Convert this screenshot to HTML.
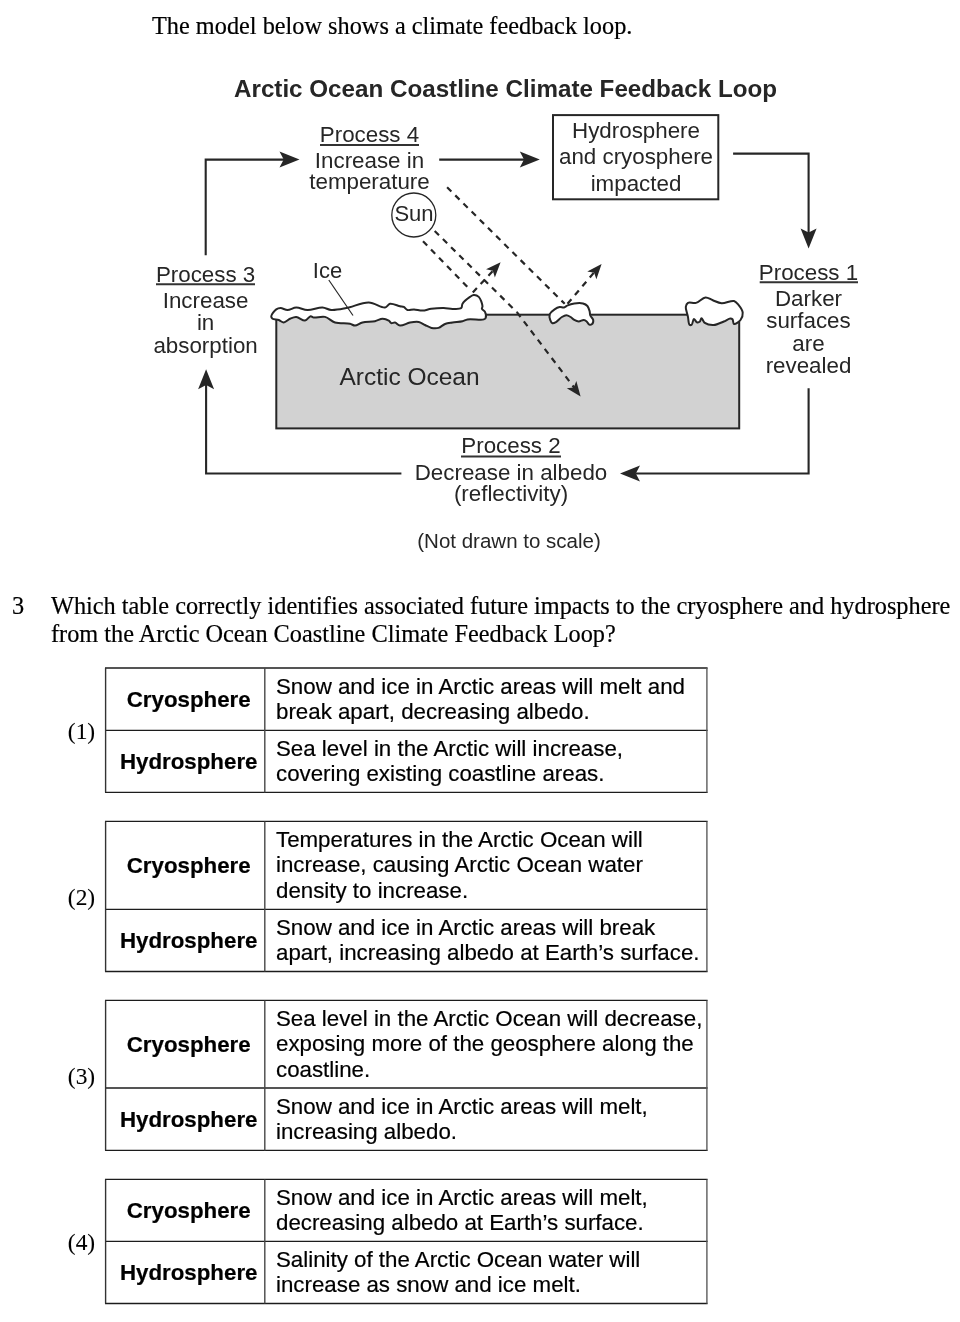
<!DOCTYPE html><html><head><meta charset="utf-8"><style>html,body{margin:0;padding:0;background:#fff;width:960px;height:1322px;overflow:hidden}svg{display:block;will-change:transform}</style></head><body><svg width="960" height="1322" viewBox="0 0 960 1322"><rect width="960" height="1322" fill="#fff"/><text x="152" y="34" font-size="24.3" text-anchor="start" font-family="'Liberation Serif', serif" fill="#000" font-weight="normal" stroke="#000" stroke-width="0.2" >The model below shows a climate feedback loop.</text><text x="234" y="96.5" font-size="24.2" text-anchor="start" font-family="'Liberation Sans', sans-serif" fill="#262626" font-weight="bold" >Arctic Ocean Coastline Climate Feedback Loop</text><rect x="276.3" y="314.7" width="462.9" height="113.7" fill="#d2d2d2" stroke="#262626" stroke-width="2"/><text x="409.5" y="384.9" font-size="24.5" text-anchor="middle" font-family="'Liberation Sans', sans-serif" fill="#262626" font-weight="normal" >Arctic Ocean</text><path d="M271.25 316.25C271.40 314.50 274.40 310.71 276.25 309.40C277.60 308.44 278.98 308.12 280.60 308.10C282.63 308.08 285.07 310.01 287.50 310.00C290.25 309.99 293.14 307.59 296.25 307.50C299.75 307.40 303.47 309.89 307.50 310.00C312.13 310.12 318.19 307.26 322.50 307.50C325.83 307.69 327.91 309.75 331.25 310.00C335.55 310.33 340.78 309.12 346.25 308.10C353.03 306.83 361.88 302.31 368.75 302.50C374.63 302.66 381.24 308.15 385.00 307.50C387.28 307.10 387.93 304.17 390.00 303.75C392.66 303.21 397.46 305.71 400.00 306.25C401.54 306.58 402.57 306.36 403.75 306.90C405.09 307.51 405.96 309.51 407.50 310.00C409.28 310.56 411.69 309.44 414.00 309.50C416.65 309.57 419.66 310.71 422.50 310.60C425.41 310.48 428.06 309.19 431.25 308.75C435.03 308.22 439.96 307.81 443.75 307.90C446.93 307.97 449.58 308.87 452.50 308.90C455.41 308.93 459.69 309.39 461.25 308.10C462.37 307.18 461.58 305.23 462.50 303.75C463.88 301.53 467.84 298.39 470.00 296.90C471.39 295.94 472.39 295.07 473.75 295.00C475.28 294.92 477.40 295.58 478.75 296.90C480.60 298.72 482.34 304.11 482.50 306.25C482.58 307.33 481.67 307.93 481.90 308.75C482.20 309.82 484.36 310.53 485.00 311.90C485.76 313.52 486.16 316.87 485.60 318.10C485.26 318.84 484.75 319.08 483.75 319.40C481.07 320.25 471.32 318.72 467.50 319.40C465.31 319.79 464.49 320.77 462.50 321.25C459.77 321.92 455.59 322.00 452.50 322.50C449.81 322.94 447.34 323.10 445.00 324.00C442.67 324.90 440.80 327.26 438.50 327.90C436.29 328.51 433.74 328.38 431.50 327.90C429.24 327.42 427.14 326.01 425.00 325.00C422.89 324.00 421.08 322.36 418.75 321.90C416.14 321.38 412.98 321.94 410.00 322.50C406.74 323.11 402.70 325.95 400.00 325.60C397.98 325.34 396.61 322.82 395.00 322.50C393.71 322.24 392.30 323.44 391.25 323.10C390.23 322.77 389.88 321.27 388.75 320.60C387.21 319.69 384.67 318.71 382.50 318.75C380.11 318.79 377.86 320.64 375.00 321.25C371.40 322.02 366.08 321.60 362.50 322.50C359.62 323.22 357.25 325.56 355.00 325.60C353.17 325.63 352.16 324.23 350.00 323.75C346.38 322.94 339.37 323.84 335.00 322.50C331.19 321.33 328.56 317.73 325.00 316.90C321.47 316.08 316.31 317.92 313.75 317.50C312.34 317.27 311.75 316.09 310.60 316.25C308.94 316.49 307.17 320.32 305.00 320.60C302.49 320.93 298.95 317.05 296.25 316.90C294.02 316.77 292.03 317.86 290.00 318.75C287.86 319.69 285.74 322.42 283.75 322.50C282.01 322.57 280.55 320.62 278.75 320.00C276.82 319.34 273.71 319.67 272.50 318.75C271.70 318.14 271.17 317.26 271.25 316.25Z" fill="#fff" stroke="#262626" stroke-width="2" stroke-linejoin="round"/><path d="M549.80 314.10C550.49 312.25 552.85 310.49 554.60 309.30C556.18 308.23 558.04 307.36 559.70 307.10C561.16 306.87 562.67 307.80 564.00 307.50C565.33 307.20 566.24 305.92 567.70 305.30C569.54 304.52 571.93 303.82 574.30 303.50C576.98 303.14 580.65 302.88 583.00 303.50C584.79 303.97 586.31 304.78 587.40 306.00C588.54 307.28 589.12 309.43 589.60 311.10C590.03 312.59 589.75 314.09 590.30 315.50C590.90 317.03 592.99 318.38 593.20 319.90C593.40 321.32 592.69 323.65 591.80 324.30C591.10 324.81 589.72 324.71 588.90 324.30C587.98 323.84 587.58 322.14 586.70 321.40C585.87 320.70 584.93 320.01 583.80 319.90C582.36 319.76 580.33 321.43 578.70 321.40C577.17 321.37 575.65 320.63 574.30 319.90C572.95 319.17 571.94 317.78 570.60 317.00C569.27 316.22 567.74 315.21 566.30 315.20C564.84 315.19 563.40 316.08 561.90 317.00C559.98 318.18 557.83 321.09 556.00 322.10C554.73 322.80 553.36 323.54 552.40 323.20C551.41 322.85 550.65 321.22 550.20 319.90C549.65 318.30 549.16 315.82 549.80 314.10Z" fill="#fff" stroke="#262626" stroke-width="2" stroke-linejoin="round"/><path d="M687.30 314.20C686.88 312.32 685.49 308.92 685.80 306.90C686.04 305.32 686.72 303.66 688.00 302.90C689.70 301.89 693.32 303.62 696.00 302.90C699.14 302.06 702.49 297.62 705.50 297.40C708.05 297.21 710.24 299.37 712.80 300.30C715.58 301.31 718.38 302.97 721.60 303.20C725.35 303.47 731.06 300.19 734.00 301.00C735.97 301.54 736.99 303.08 738.30 304.70C739.96 306.75 742.42 310.04 742.70 312.70C742.96 315.14 741.95 318.12 740.50 320.00C739.05 321.88 735.31 324.49 734.00 324.00C732.95 323.61 733.33 320.17 732.50 319.30C731.93 318.70 731.22 318.46 730.30 318.50C728.70 318.57 726.24 320.51 723.80 321.50C720.79 322.72 716.81 324.95 713.50 325.10C710.50 325.23 706.85 324.31 704.80 322.90C703.16 321.77 702.39 318.13 701.50 318.20C700.75 318.26 700.59 321.16 699.70 321.80C698.94 322.34 697.69 322.53 696.80 322.20C695.71 321.80 694.71 318.75 693.90 318.90C692.94 319.07 692.75 323.98 691.70 324.70C691.08 325.13 690.07 325.17 689.50 324.70C688.43 323.82 688.42 319.03 688.00 317.10C687.74 315.90 687.57 315.39 687.30 314.20Z" fill="#fff" stroke="#262626" stroke-width="2" stroke-linejoin="round"/><text x="327.5" y="277.7" font-size="22" text-anchor="middle" font-family="'Liberation Sans', sans-serif" fill="#262626" font-weight="normal" >Ice</text><line x1="328.8" y1="280" x2="353" y2="315.5" stroke="#262626" stroke-width="1.2"/><circle cx="413.8" cy="215" r="22" fill="#fff" stroke="#262626" stroke-width="1.3"/><text x="414" y="221.4" font-size="22" text-anchor="middle" font-family="'Liberation Sans', sans-serif" fill="#262626" font-weight="normal" >Sun</text><line x1="447.1" y1="187.3" x2="564.7" y2="303.8" stroke="#262626" stroke-width="2.2" stroke-dasharray="6 5.5"/><line x1="434.7" y1="231" x2="516.9" y2="312.2" stroke="#262626" stroke-width="2.2" stroke-dasharray="6 5.5"/><line x1="423" y1="241.3" x2="470" y2="289.7" stroke="#262626" stroke-width="2.2" stroke-dasharray="6 5.5"/><line x1="472.8" y1="292.5" x2="496" y2="267.5" stroke="#262626" stroke-width="2.2" stroke-dasharray="6 5.5"/><path d="M500.60 262.30L494.86 277.40L492.81 270.76L486.03 269.27Z" fill="#262626"/><line x1="567.5" y1="303.8" x2="597" y2="269" stroke="#262626" stroke-width="2.2" stroke-dasharray="6 5.5"/><path d="M601.60 264.00L596.40 279.29L594.12 272.73L587.28 271.49Z" fill="#262626"/><line x1="516.9" y1="312.2" x2="576" y2="390" stroke="#262626" stroke-width="2.2" stroke-dasharray="6 5.5"/><path d="M580.60 396.60L566.77 388.24L573.67 387.42L576.35 381.01Z" fill="#262626"/><polyline points="205.7,255.3 205.7,159.6 284,159.6" stroke="#262626" stroke-width="2.1" fill="none"/><path d="M299.50 159.60L279.50 167.60L283.70 159.60L279.50 151.60Z" fill="#262626"/><line x1="439.2" y1="159.6" x2="525" y2="159.6" stroke="#262626" stroke-width="2.1" fill="none"/><path d="M539.80 159.60L519.80 167.60L524.00 159.60L519.80 151.60Z" fill="#262626"/><polyline points="733.1,153.6 808.6,153.6 808.6,235" stroke="#262626" stroke-width="2.1" fill="none"/><path d="M808.60 248.40L800.60 228.40L808.60 232.60L816.60 228.40Z" fill="#262626"/><polyline points="808.6,388.2 808.6,473.5 636,473.5" stroke="#262626" stroke-width="2.1" fill="none"/><path d="M620.00 473.50L640.00 465.50L635.80 473.50L640.00 481.50Z" fill="#262626"/><polyline points="401.4,473.5 206.1,473.5 206.1,385" stroke="#262626" stroke-width="2.1" fill="none"/><path d="M206.10 369.20L214.10 389.20L206.10 385.00L198.10 389.20Z" fill="#262626"/><rect x="553" y="115.1" width="165.3" height="84.2" fill="none" stroke="#262626" stroke-width="2"/><text x="636" y="137.7" font-size="22.35" text-anchor="middle" font-family="'Liberation Sans', sans-serif" fill="#262626" font-weight="normal" >Hydrosphere</text><text x="636" y="163.9" font-size="22.35" text-anchor="middle" font-family="'Liberation Sans', sans-serif" fill="#262626" font-weight="normal" >and cryosphere</text><text x="636" y="191.1" font-size="22.35" text-anchor="middle" font-family="'Liberation Sans', sans-serif" fill="#262626" font-weight="normal" >impacted</text><text x="369.5" y="141.7" font-size="22.35" text-anchor="middle" font-family="'Liberation Sans', sans-serif" fill="#262626" font-weight="normal" >Process 4</text><line x1="320" y1="144.9" x2="419" y2="144.9" stroke="#333" stroke-width="2"/><text x="369.5" y="168.3" font-size="22.35" text-anchor="middle" font-family="'Liberation Sans', sans-serif" fill="#262626" font-weight="normal" >Increase in</text><text x="369.5" y="189.1" font-size="22.35" text-anchor="middle" font-family="'Liberation Sans', sans-serif" fill="#262626" font-weight="normal" >temperature</text><text x="808.5" y="279.5" font-size="22.35" text-anchor="middle" font-family="'Liberation Sans', sans-serif" fill="#262626" font-weight="normal" >Process 1</text><line x1="759.7" y1="282.3" x2="858" y2="282.3" stroke="#333" stroke-width="2"/><text x="808.5" y="306.1" font-size="22.35" text-anchor="middle" font-family="'Liberation Sans', sans-serif" fill="#262626" font-weight="normal" >Darker</text><text x="808.5" y="328.0" font-size="22.35" text-anchor="middle" font-family="'Liberation Sans', sans-serif" fill="#262626" font-weight="normal" >surfaces</text><text x="808.5" y="350.5" font-size="22.35" text-anchor="middle" font-family="'Liberation Sans', sans-serif" fill="#262626" font-weight="normal" >are</text><text x="808.5" y="372.8" font-size="22.35" text-anchor="middle" font-family="'Liberation Sans', sans-serif" fill="#262626" font-weight="normal" >revealed</text><text x="205.6" y="281.9" font-size="22.35" text-anchor="middle" font-family="'Liberation Sans', sans-serif" fill="#262626" font-weight="normal" >Process 3</text><line x1="156" y1="284.3" x2="255" y2="284.3" stroke="#333" stroke-width="2"/><text x="205.6" y="308.4" font-size="22.35" text-anchor="middle" font-family="'Liberation Sans', sans-serif" fill="#262626" font-weight="normal" >Increase</text><text x="205.6" y="330.3" font-size="22.35" text-anchor="middle" font-family="'Liberation Sans', sans-serif" fill="#262626" font-weight="normal" >in</text><text x="205.6" y="352.9" font-size="22.35" text-anchor="middle" font-family="'Liberation Sans', sans-serif" fill="#262626" font-weight="normal" >absorption</text><text x="511" y="453.4" font-size="22.35" text-anchor="middle" font-family="'Liberation Sans', sans-serif" fill="#262626" font-weight="normal" >Process 2</text><line x1="461" y1="456.5" x2="561" y2="456.5" stroke="#333" stroke-width="2"/><text x="511" y="480.2" font-size="22.35" text-anchor="middle" font-family="'Liberation Sans', sans-serif" fill="#262626" font-weight="normal" >Decrease in albedo</text><text x="511" y="501.1" font-size="22.35" text-anchor="middle" font-family="'Liberation Sans', sans-serif" fill="#262626" font-weight="normal" >(reflectivity)</text><text x="509" y="547.8" font-size="20.5" text-anchor="middle" font-family="'Liberation Sans', sans-serif" fill="#262626" font-weight="normal" >(Not drawn to scale)</text><text x="12" y="614" font-size="24.3" text-anchor="start" font-family="'Liberation Serif', serif" fill="#000" font-weight="normal" stroke="#000" stroke-width="0.2" >3</text><text x="51" y="614" font-size="24.3" text-anchor="start" font-family="'Liberation Serif', serif" fill="#000" font-weight="normal" stroke="#000" stroke-width="0.2" >Which table correctly identifies associated future impacts to the cryosphere and hydrosphere</text><text x="51" y="642" font-size="24.3" text-anchor="start" font-family="'Liberation Serif', serif" fill="#000" font-weight="normal" stroke="#000" stroke-width="0.2" >from the Arctic Ocean Coastline Climate Feedback Loop?</text><line x1="105" y1="668.0" x2="707.6" y2="668.0" stroke="#1c1c1c" stroke-width="1.3"/><line x1="105" y1="730.35" x2="707.6" y2="730.35" stroke="#1c1c1c" stroke-width="1.3"/><line x1="105" y1="792.4" x2="707.6" y2="792.4" stroke="#1c1c1c" stroke-width="1.3"/><line x1="105.6" y1="668.0" x2="105.6" y2="792.4" stroke="#333" stroke-width="1.4"/><line x1="264.8" y1="668.0" x2="264.8" y2="792.4" stroke="#474747" stroke-width="1.4"/><line x1="706.9" y1="668.0" x2="706.9" y2="792.4" stroke="#5c5c5c" stroke-width="1.4"/><text x="81.5" y="738.9" font-size="23.4" text-anchor="middle" font-family="'Liberation Serif', serif" fill="#000" font-weight="normal" stroke="#000" stroke-width="0.1" >(1)</text><text x="188.7" y="706.775" font-size="22.3" text-anchor="middle" font-family="'Liberation Sans', sans-serif" fill="#000" font-weight="bold" stroke="#000" stroke-width="0.2" >Cryosphere</text><text x="188.7" y="768.975" font-size="22.3" text-anchor="middle" font-family="'Liberation Sans', sans-serif" fill="#000" font-weight="bold" stroke="#000" stroke-width="0.2" >Hydrosphere</text><text x="276" y="693.6" font-size="22.3" text-anchor="start" font-family="'Liberation Sans', sans-serif" fill="#000" font-weight="normal" stroke="#000" stroke-width="0.2" >Snow and ice in Arctic areas will melt and</text><text x="276" y="718.9" font-size="22.3" text-anchor="start" font-family="'Liberation Sans', sans-serif" fill="#000" font-weight="normal" stroke="#000" stroke-width="0.2" >break apart, decreasing albedo.</text><text x="276" y="755.95" font-size="22.3" text-anchor="start" font-family="'Liberation Sans', sans-serif" fill="#000" font-weight="normal" stroke="#000" stroke-width="0.2" >Sea level in the Arctic will increase,</text><text x="276" y="781.25" font-size="22.3" text-anchor="start" font-family="'Liberation Sans', sans-serif" fill="#000" font-weight="normal" stroke="#000" stroke-width="0.2" >covering existing coastline areas.</text><line x1="105" y1="821.4" x2="707.6" y2="821.4" stroke="#1c1c1c" stroke-width="1.3"/><line x1="105" y1="909.4" x2="707.6" y2="909.4" stroke="#1c1c1c" stroke-width="1.3"/><line x1="105" y1="971.5" x2="707.6" y2="971.5" stroke="#1c1c1c" stroke-width="1.3"/><line x1="105.6" y1="821.4" x2="105.6" y2="971.5" stroke="#333" stroke-width="1.4"/><line x1="264.8" y1="821.4" x2="264.8" y2="971.5" stroke="#474747" stroke-width="1.4"/><line x1="706.9" y1="821.4" x2="706.9" y2="971.5" stroke="#5c5c5c" stroke-width="1.4"/><text x="81.5" y="905.3" font-size="23.4" text-anchor="middle" font-family="'Liberation Serif', serif" fill="#000" font-weight="normal" stroke="#000" stroke-width="0.1" >(2)</text><text x="188.7" y="873.0" font-size="22.3" text-anchor="middle" font-family="'Liberation Sans', sans-serif" fill="#000" font-weight="bold" stroke="#000" stroke-width="0.2" >Cryosphere</text><text x="188.7" y="948.0500000000001" font-size="22.3" text-anchor="middle" font-family="'Liberation Sans', sans-serif" fill="#000" font-weight="bold" stroke="#000" stroke-width="0.2" >Hydrosphere</text><text x="276" y="847.0" font-size="22.3" text-anchor="start" font-family="'Liberation Sans', sans-serif" fill="#000" font-weight="normal" stroke="#000" stroke-width="0.2" >Temperatures in the Arctic Ocean will</text><text x="276" y="872.3" font-size="22.3" text-anchor="start" font-family="'Liberation Sans', sans-serif" fill="#000" font-weight="normal" stroke="#000" stroke-width="0.2" >increase, causing Arctic Ocean water</text><text x="276" y="897.6" font-size="22.3" text-anchor="start" font-family="'Liberation Sans', sans-serif" fill="#000" font-weight="normal" stroke="#000" stroke-width="0.2" >density to increase.</text><text x="276" y="935.0" font-size="22.3" text-anchor="start" font-family="'Liberation Sans', sans-serif" fill="#000" font-weight="normal" stroke="#000" stroke-width="0.2" >Snow and ice in Arctic areas will break</text><text x="276" y="960.3" font-size="22.3" text-anchor="start" font-family="'Liberation Sans', sans-serif" fill="#000" font-weight="normal" stroke="#000" stroke-width="0.2" >apart, increasing albedo at Earth’s surface.</text><line x1="105" y1="1000.4" x2="707.6" y2="1000.4" stroke="#1c1c1c" stroke-width="1.3"/><line x1="105" y1="1088.0" x2="707.6" y2="1088.0" stroke="#1c1c1c" stroke-width="1.3"/><line x1="105" y1="1150.4" x2="707.6" y2="1150.4" stroke="#1c1c1c" stroke-width="1.3"/><line x1="105.6" y1="1000.4" x2="105.6" y2="1150.4" stroke="#333" stroke-width="1.4"/><line x1="264.8" y1="1000.4" x2="264.8" y2="1150.4" stroke="#474747" stroke-width="1.4"/><line x1="706.9" y1="1000.4" x2="706.9" y2="1150.4" stroke="#5c5c5c" stroke-width="1.4"/><text x="81.5" y="1084.0" font-size="23.4" text-anchor="middle" font-family="'Liberation Serif', serif" fill="#000" font-weight="normal" stroke="#000" stroke-width="0.1" >(3)</text><text x="188.7" y="1051.8" font-size="22.3" text-anchor="middle" font-family="'Liberation Sans', sans-serif" fill="#000" font-weight="bold" stroke="#000" stroke-width="0.2" >Cryosphere</text><text x="188.7" y="1126.8" font-size="22.3" text-anchor="middle" font-family="'Liberation Sans', sans-serif" fill="#000" font-weight="bold" stroke="#000" stroke-width="0.2" >Hydrosphere</text><text x="276" y="1026.0" font-size="22.3" text-anchor="start" font-family="'Liberation Sans', sans-serif" fill="#000" font-weight="normal" stroke="#000" stroke-width="0.2" >Sea level in the Arctic Ocean will decrease,</text><text x="276" y="1051.3" font-size="22.3" text-anchor="start" font-family="'Liberation Sans', sans-serif" fill="#000" font-weight="normal" stroke="#000" stroke-width="0.2" >exposing more of the geosphere along the</text><text x="276" y="1076.6" font-size="22.3" text-anchor="start" font-family="'Liberation Sans', sans-serif" fill="#000" font-weight="normal" stroke="#000" stroke-width="0.2" >coastline.</text><text x="276" y="1113.6" font-size="22.3" text-anchor="start" font-family="'Liberation Sans', sans-serif" fill="#000" font-weight="normal" stroke="#000" stroke-width="0.2" >Snow and ice in Arctic areas will melt,</text><text x="276" y="1138.8999999999999" font-size="22.3" text-anchor="start" font-family="'Liberation Sans', sans-serif" fill="#000" font-weight="normal" stroke="#000" stroke-width="0.2" >increasing albedo.</text><line x1="105" y1="1179.4" x2="707.6" y2="1179.4" stroke="#1c1c1c" stroke-width="1.3"/><line x1="105" y1="1241.4" x2="707.6" y2="1241.4" stroke="#1c1c1c" stroke-width="1.3"/><line x1="105" y1="1303.5" x2="707.6" y2="1303.5" stroke="#1c1c1c" stroke-width="1.3"/><line x1="105.6" y1="1179.4" x2="105.6" y2="1303.5" stroke="#333" stroke-width="1.4"/><line x1="264.8" y1="1179.4" x2="264.8" y2="1303.5" stroke="#474747" stroke-width="1.4"/><line x1="706.9" y1="1179.4" x2="706.9" y2="1303.5" stroke="#5c5c5c" stroke-width="1.4"/><text x="81.5" y="1249.6" font-size="23.4" text-anchor="middle" font-family="'Liberation Serif', serif" fill="#000" font-weight="normal" stroke="#000" stroke-width="0.1" >(4)</text><text x="188.7" y="1218.0" font-size="22.3" text-anchor="middle" font-family="'Liberation Sans', sans-serif" fill="#000" font-weight="bold" stroke="#000" stroke-width="0.2" >Cryosphere</text><text x="188.7" y="1280.05" font-size="22.3" text-anchor="middle" font-family="'Liberation Sans', sans-serif" fill="#000" font-weight="bold" stroke="#000" stroke-width="0.2" >Hydrosphere</text><text x="276" y="1205.0" font-size="22.3" text-anchor="start" font-family="'Liberation Sans', sans-serif" fill="#000" font-weight="normal" stroke="#000" stroke-width="0.2" >Snow and ice in Arctic areas will melt,</text><text x="276" y="1230.3" font-size="22.3" text-anchor="start" font-family="'Liberation Sans', sans-serif" fill="#000" font-weight="normal" stroke="#000" stroke-width="0.2" >decreasing albedo at Earth’s surface.</text><text x="276" y="1267.0" font-size="22.3" text-anchor="start" font-family="'Liberation Sans', sans-serif" fill="#000" font-weight="normal" stroke="#000" stroke-width="0.2" >Salinity of the Arctic Ocean water will</text><text x="276" y="1292.3" font-size="22.3" text-anchor="start" font-family="'Liberation Sans', sans-serif" fill="#000" font-weight="normal" stroke="#000" stroke-width="0.2" >increase as snow and ice melt.</text></svg></body></html>
